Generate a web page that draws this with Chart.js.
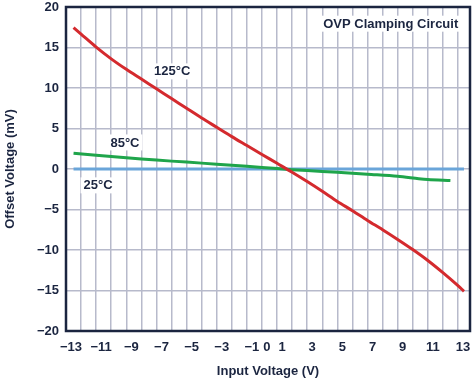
<!DOCTYPE html>
<html>
<head>
<meta charset="utf-8">
<script src="https://cdn.jsdelivr.net/npm/chart.js@4.4.1/dist/chart.umd.min.js"></script>
<style>
  html, body { margin: 0; padding: 0; background: #ffffff; }
  #wrap { width: 474px; height: 383px; position: relative; }
</style>
</head>
<body>
<div id="wrap"><canvas id="c" width="474" height="383"></canvas></div>
<script>
// ---- data ----
const seriesNames = ['125°C', '85°C', '25°C'];
const chartTitle = 'OVP Clamping Circuit';
const xTitle = 'Input Voltage (V)';
const yTitle = 'Offset Voltage (mV)';

const x125 = [-12.5, -12, -11, -10, -9, -8, -7, -6, -5, -4, -3, -2, -1, 0, 1, 2, 3, 4, 5, 6, 7, 8, 9, 10, 11, 12, 13, 13.4];
const y125 = [17.45, 16.65, 15.05, 13.6, 12.3, 11.1, 9.9, 8.7, 7.5, 6.3, 5.15, 4.0, 2.9, 1.8, 0.7, -0.4, -1.55, -2.75, -4.0, -5.15, -6.35, -7.5, -8.7, -9.95, -11.3, -12.8, -14.4, -15.1];

const x85 = [-12.5, -11, -9, -7, -5, -3, -1, 1, 3, 5, 7, 9, 10.4, 11, 12.5];
const y85 = [1.95, 1.7, 1.4, 1.1, 0.85, 0.6, 0.35, 0.05, -0.2, -0.4, -0.65, -0.9, -1.2, -1.3, -1.42];

const x25 = [-12.5, 0, 13.4];
const y25 = [0, 0, 0];

const xTickValues = [-13, -12, -11, -10, -9, -8, -7, -6, -5, -4, -3, -2, -1, 0, 1, 2, 3, 4, 5, 6, 7, 8, 9, 10, 11, 12, 13];
const xLabelValues = [-13, -11, -9, -7, -5, -3, -1, 0, 1, 3, 5, 7, 9, 11, 13];

// ---- styling ----
const navy = '#1b2540';
const gridColor = '#b7bacb';
const fontFam = "'Liberation Sans', Arial, Helvetica, sans-serif";

function pts(xs, ys) { return xs.map((x, i) => ({ x: x, y: ys[i] })); }
function fmt(v) { return v < 0 ? '\u2212' + Math.abs(v) : String(v); }

// annotations (data coordinates)
const notes = [
  { text: seriesNames[0], x: -5.96, y: 12.05 },
  { text: seriesNames[1], x: -9.09, y: 3.28 },
  { text: seriesNames[2], x: -10.87, y: -2.02 },
  { text: chartTitle, x: 8.54, y: 17.94 }
];

const framePlugin = {
  id: 'frame',
  afterDatasetsDraw(chart) {
    const { ctx, chartArea: a, scales } = chart;
    ctx.save();
    ctx.font = 'bold 13px ' + fontFam;
    ctx.textAlign = 'center';
    ctx.textBaseline = 'middle';
    notes.forEach(n => {
      const px = scales.x.getPixelForValue(n.x);
      const py = scales.y.getPixelForValue(n.y);
      const w = ctx.measureText(n.text).width;
      ctx.fillStyle = '#ffffff';
      ctx.fillRect(px - w / 2 - 3, py - 8, w + 6, 16);
      ctx.fillStyle = navy;
      ctx.fillText(n.text, px, py + 0.5);
    });
    ctx.strokeStyle = navy;
    ctx.lineWidth = 2.5;
    ctx.strokeRect(a.left, a.top, a.right - a.left, a.bottom - a.top);
    ctx.restore();
  }
};

new Chart(document.getElementById('c'), {
  type: 'line',
  data: {
    datasets: [
      { label: seriesNames[0], data: pts(x125, y125), borderColor: '#d42a2e', borderWidth: 3, pointRadius: 0, tension: 0.3, fill: false },
      { label: seriesNames[1], data: pts(x85, y85), borderColor: '#1fa54b', borderWidth: 3, pointRadius: 0, tension: 0.3, fill: false },
      { label: seriesNames[2], data: pts(x25, y25), borderColor: '#6aa5d9', borderWidth: 3, pointRadius: 0, tension: 0, fill: false }
    ]
  },
  options: {
    responsive: false,
    animation: false,
    layout: { padding: { top: 7, right: 4, left: 0, bottom: 0 } },
    plugins: { legend: { display: false }, tooltip: { enabled: false } },
    scales: {
      x: {
        type: 'linear',
        min: -13,
        max: 13.8,
        afterBuildTicks(scale) { scale.ticks = xTickValues.map(v => ({ value: v })); },
        afterFit(scale) { scale.height = 52; scale.paddingLeft = 0; scale.paddingRight = 0; },
        grid: { color: gridColor, lineWidth: 1.5, drawTicks: false },
        border: { display: false },
        ticks: {
          autoSkip: false,
          maxRotation: 0,
          padding: 9,
          labelOffset: 5,
          color: navy,
          font: { family: fontFam, size: 13, weight: 'bold' },
          callback: (v) => xLabelValues.includes(v) ? fmt(v) : ''
        },
        title: { display: true, text: xTitle, color: navy, font: { family: fontFam, size: 13, weight: 'bold' }, padding: { top: 4, bottom: 4 } }
      },
      y: {
        type: 'linear',
        min: -20,
        max: 20,
        afterFit(scale) { scale.width = 66; scale.paddingTop = 0; scale.paddingBottom = 0; },
        grid: { color: gridColor, lineWidth: 1.5, drawTicks: false },
        border: { display: false },
        ticks: {
          stepSize: 5,
          padding: 7,
          color: navy,
          font: { family: fontFam, size: 13, weight: 'bold' },
          callback: (v) => fmt(v)
        },
        title: { display: true, text: yTitle, color: navy, font: { family: fontFam, size: 13, weight: 'bold' }, padding: { top: 3, bottom: 3 } }
      }
    }
  },
  plugins: [framePlugin]
});
</script>
</body>
</html>
